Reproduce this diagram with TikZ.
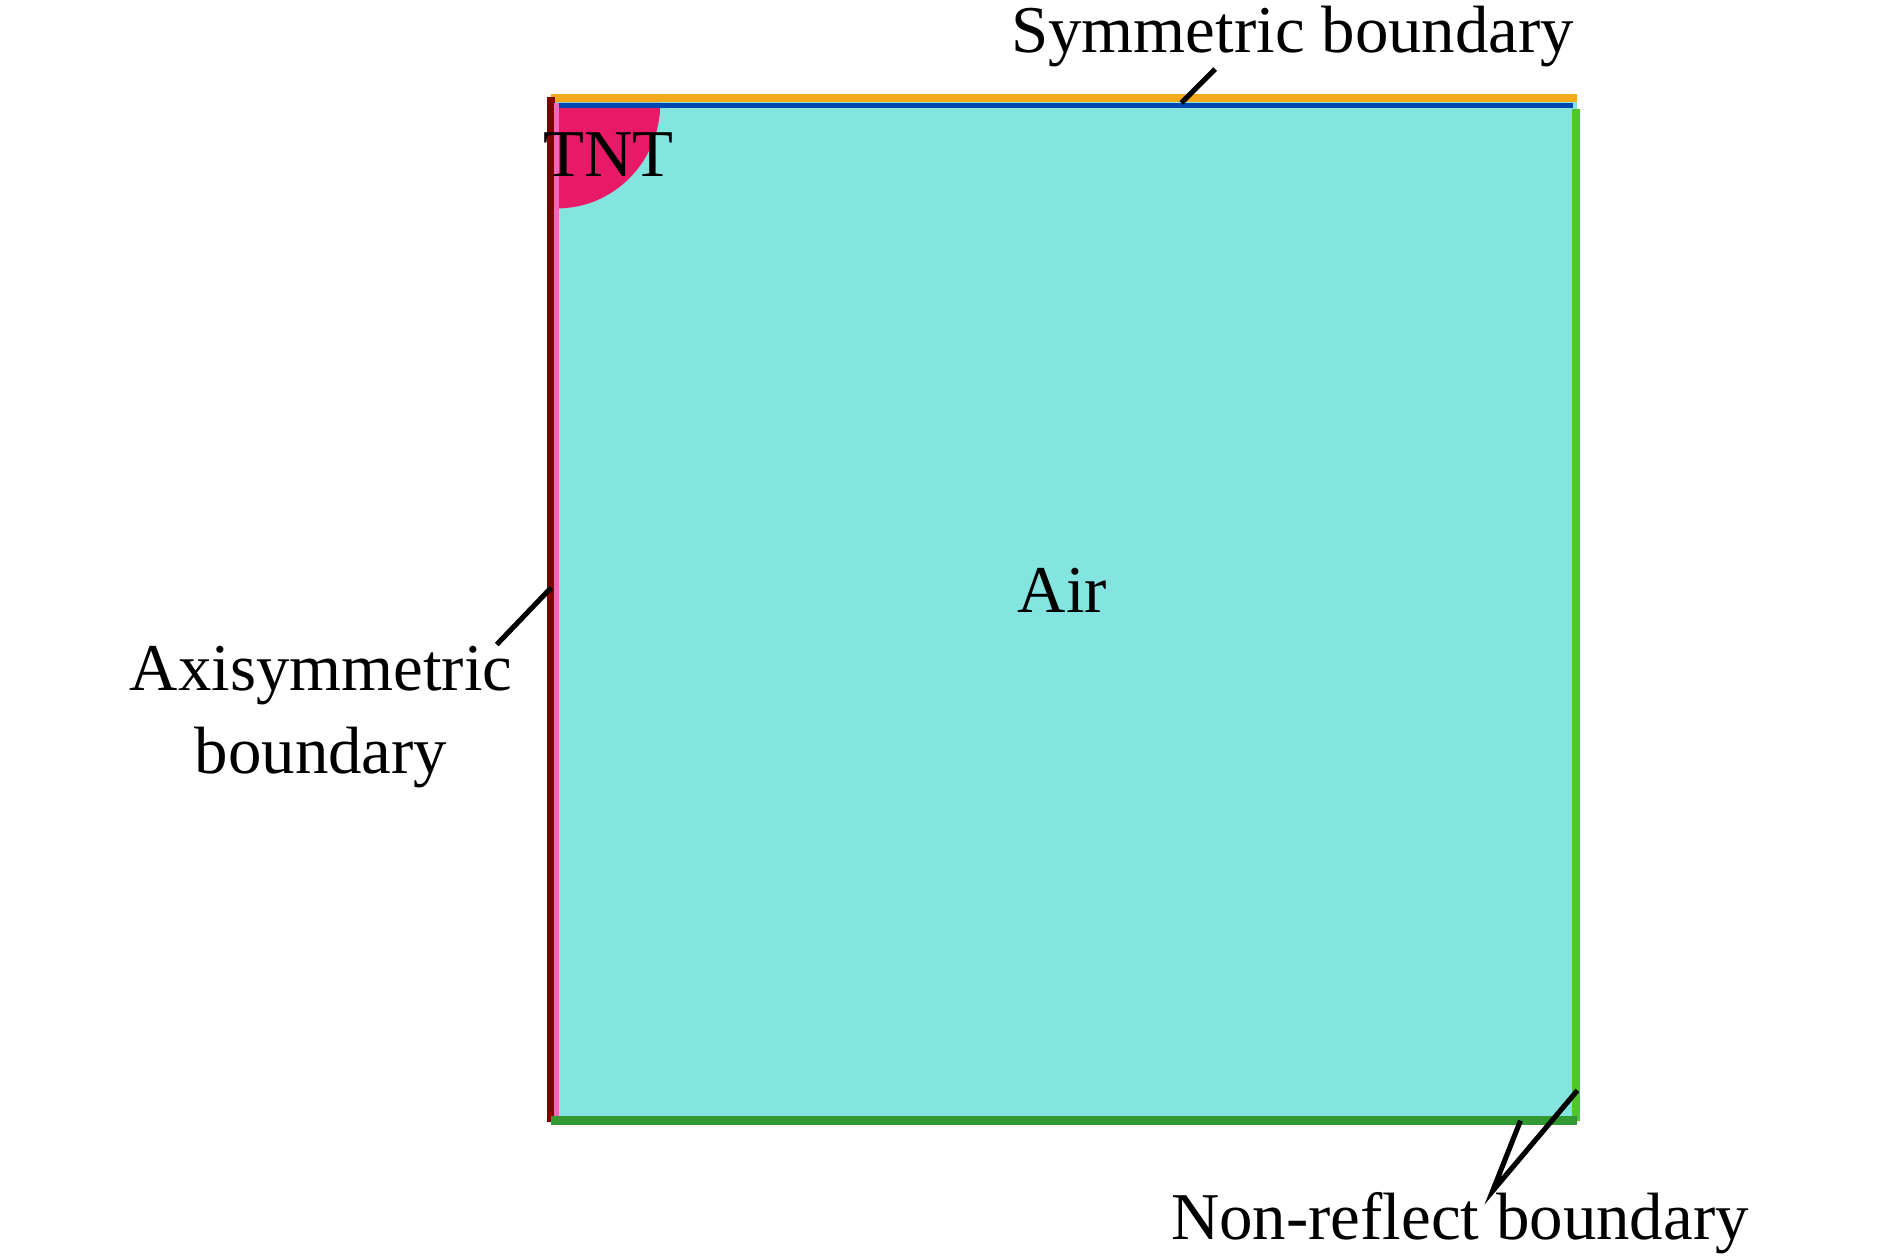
\documentclass[tikz,border=0pt]{standalone}
\usepackage{fontspec}
\setmainfont{Liberation Serif}
\usetikzlibrary{positioning}
\definecolor{aircol}{RGB}{132,228,224}
\definecolor{tntcol}{RGB}{232,26,104}
\definecolor{symcol}{RGB}{245,170,30}
\definecolor{nrcol}{RGB}{80,200,40}
\begin{document}
\begin{tikzpicture}[x=0.01cm,y=-0.01cm,
    lbl/.style={font=\fontsize{15.7}{19.5}\selectfont,align=center,inner sep=0pt},
    lead/.style={black,line width=1.2pt}]
\useasboundingbox (0,0) rectangle (1560,1040);
% domain
\fill[aircol] (455,80) rectangle (1302,925);
\fill[tntcol] (460,85) -- (545,85) arc[start angle=0,end angle=-90,x radius=85,y radius=-87] -- cycle;
% boundaries
\draw[symcol,line width=2pt] (455,81) -- (1302,81);
\draw[blue!60!cyan!70!black,line width=1pt] (460,87) -- (1298,87);
\draw[red!50!black,line width=1.8pt] (455,80) -- (455,926);
\draw[magenta!60,line width=1.2pt] (459,85) -- (459,922);
\draw[nrcol,line width=1.8pt] (1301,90) -- (1301,925);
\draw[green!50!black!80,line width=2pt] (455,925) -- (1302,925);
% labels
\node[lbl] (tnt) at (502,128) {TNT};
\node[lbl] (air) at (877,487) {Air};
\node[lbl] (sym) at (1067,30) {Symmetric boundary};
\node[lbl] (axi) at (265,592) {Axisymmetric\\boundary};
\node[lbl] (nonr) at (1205,1010) {Non-reflect boundary};
\coordinate (symp) at (975,85);
\coordinate (axip) at (455,485);
\coordinate (nrv) at (1232,983);
\coordinate (nra) at (1302,900);
\coordinate (nrb) at (1255,925);
\draw[lead] (symp) -- (1003,57);
\draw[lead] (axip) -- (410,532);
\draw[lead] (nra) -- (nrv) -- (nrb);
\end{tikzpicture}
\end{document}
